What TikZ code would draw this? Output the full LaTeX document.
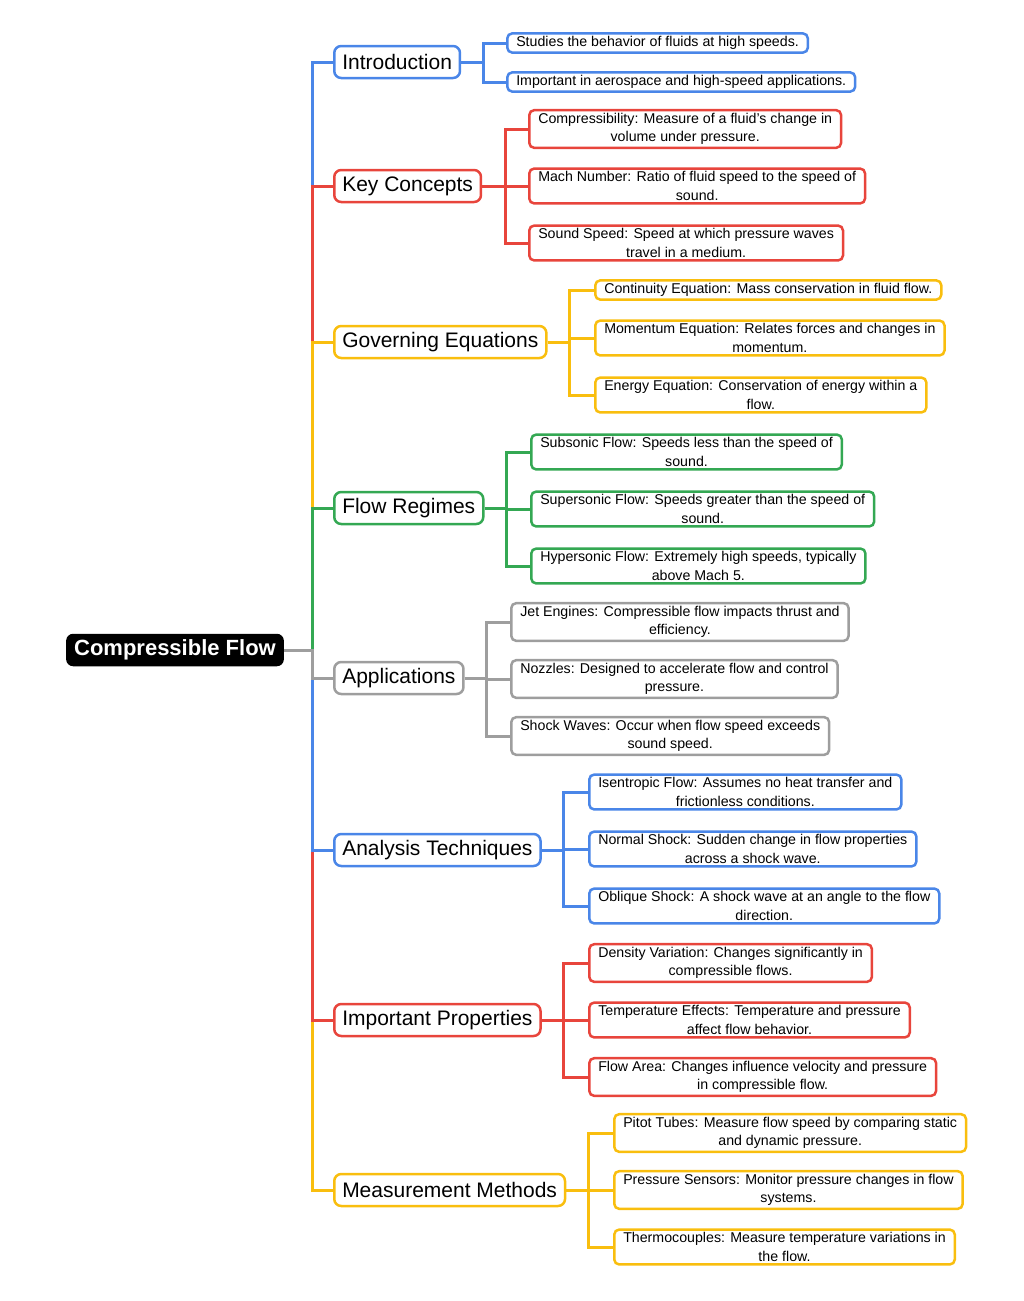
\documentclass[tikz,border=0pt]{standalone}
\usepackage{fontspec}
\setmainfont{Liberation Sans}
\definecolor{cblue}{HTML}{4A86E8}
\definecolor{cred}{HTML}{E8453C}
\definecolor{cyellow}{HTML}{F9BE0E}
\definecolor{cgreen}{HTML}{34A853}
\definecolor{cgray}{HTML}{9E9E9E}
\begin{document}
\begin{tikzpicture}[x=1pt,y=-1pt,
  root/.style={fill=black,text=white,rounded corners=7pt,inner xsep=8pt,inner ysep=6pt,font=\fontsize{22}{26}\selectfont\bfseries},
  branch/.style={draw=#1,line width=2.5pt,fill=white,rounded corners=7pt,anchor=west,inner xsep=8pt,minimum height=32pt,font=\fontsize{21}{25}\selectfont},
  leaf/.style={draw=#1,line width=2.5pt,fill=white,rounded corners=5pt,anchor=west,align=center,inner xsep=9pt,inner ysep=3pt,font=\fontsize{14.2}{18.5}\selectfont},
  link/.style={draw=#1,line width=3pt}]
\useasboundingbox (0,0) rectangle (1024,1301);

\node[root] (root) at (175,650) {Compressible Flow};

%%% branches
\node[branch=cblue] (intro) at (333,62) {Introduction};
\node[branch=cred] (key) at (333,186) {Key Concepts};
\node[branch=cyellow] (gov) at (333,342) {Governing Equations};
\node[branch=cgreen] (regimes) at (333,508) {Flow Regimes};
\node[branch=cgray] (appl) at (333,678) {Applications};
\node[branch=cblue] (analysis) at (333,850) {Analysis Techniques};
\node[branch=cred] (props) at (333,1020) {Important Properties};
\node[branch=cyellow] (meas) at (333,1190) {Measurement Methods};

%%% trunk, outer branches first
\foreach \b/\c in {intro/cblue,key/cred,gov/cyellow,regimes/cgreen,meas/cyellow,props/cred,analysis/cblue,appl/cgray}
  {\draw[link=\c] (root.east) -- (312,650) |- (\b.west);}

%%% leaves
\node[leaf=cblue] (intro1) at (506,43) {Studies the behavior of fluids at high speeds.};
\node[leaf=cblue] (intro2) at (506,82) {Important in aerospace and high-speed applications.};

\node[leaf=cred] (key1) at (528,129) {Compressibility: Measure of a fluid's change in\\volume under pressure.};
\node[leaf=cred] (key2) at (528,186) {Mach Number: Ratio of fluid speed to the speed of\\sound.};
\node[leaf=cred] (key3) at (528,243) {Sound Speed: Speed at which pressure waves\\travel in a medium.};

\node[leaf=cyellow] (gov1) at (594,290) {Continuity Equation: Mass conservation in fluid flow.};
\node[leaf=cyellow] (gov2) at (594,338) {Momentum Equation: Relates forces and changes in\\momentum.};
\node[leaf=cyellow] (gov3) at (594,395) {Energy Equation: Conservation of energy within a\\flow.};

\node[leaf=cgreen] (reg1) at (530,452) {Subsonic Flow: Speeds less than the speed of\\sound.};
\node[leaf=cgreen] (reg2) at (530,509) {Supersonic Flow: Speeds greater than the speed of\\sound.};
\node[leaf=cgreen] (reg3) at (530,566) {Hypersonic Flow: Extremely high speeds, typically\\above Mach 5.};

\node[leaf=cgray] (app1) at (510,622) {Jet Engines: Compressible flow impacts thrust and\\efficiency.};
\node[leaf=cgray] (app2) at (510,679) {Nozzles: Designed to accelerate flow and control\\pressure.};
\node[leaf=cgray] (app3) at (510,736) {Shock Waves: Occur when flow speed exceeds\\sound speed.};

\node[leaf=cblue] (ana1) at (588,792) {Isentropic Flow: Assumes no heat transfer and\\frictionless conditions.};
\node[leaf=cblue] (ana2) at (588,849) {Normal Shock: Sudden change in flow properties\\across a shock wave.};
\node[leaf=cblue] (ana3) at (588,906) {Oblique Shock: A shock wave at an angle to the flow\\direction.};

\node[leaf=cred] (prop1) at (588,963) {Density Variation: Changes significantly in\\compressible flows.};
\node[leaf=cred] (prop2) at (588,1020) {Temperature Effects: Temperature and pressure\\affect flow behavior.};
\node[leaf=cred] (prop3) at (588,1077) {Flow Area: Changes influence velocity and pressure\\in compressible flow.};

\node[leaf=cyellow] (meas1) at (613,1133) {Pitot Tubes: Measure flow speed by comparing static\\and dynamic pressure.};
\node[leaf=cyellow] (meas2) at (613,1190) {Pressure Sensors: Monitor pressure changes in flow\\systems.};
\node[leaf=cyellow] (meas3) at (613,1247) {Thermocouples: Measure temperature variations in\\the flow.};

%%% leaf links
\foreach \l in {intro1,intro2}{\draw[link=cblue] (intro.east) -- ++(22,0) |- (\l.west);}
\foreach \l in {key1,key2,key3}{\draw[link=cred] (key.east) -- ++(23,0) |- (\l.west);}
\foreach \l in {gov1,gov2,gov3}{\draw[link=cyellow] (gov.east) -- ++(22,0) |- (\l.west);}
\foreach \l in {reg1,reg2,reg3}{\draw[link=cgreen] (regimes.east) -- ++(22,0) |- (\l.west);}
\foreach \l in {app1,app2,app3}{\draw[link=cgray] (appl.east) -- ++(22,0) |- (\l.west);}
\foreach \l in {ana1,ana2,ana3}{\draw[link=cblue] (analysis.east) -- ++(22,0) |- (\l.west);}
\foreach \l in {prop1,prop2,prop3}{\draw[link=cred] (props.east) -- ++(22,0) |- (\l.west);}
\foreach \l in {meas1,meas2,meas3}{\draw[link=cyellow] (meas.east) -- ++(22,0) |- (\l.west);}
\end{tikzpicture}
\end{document}
